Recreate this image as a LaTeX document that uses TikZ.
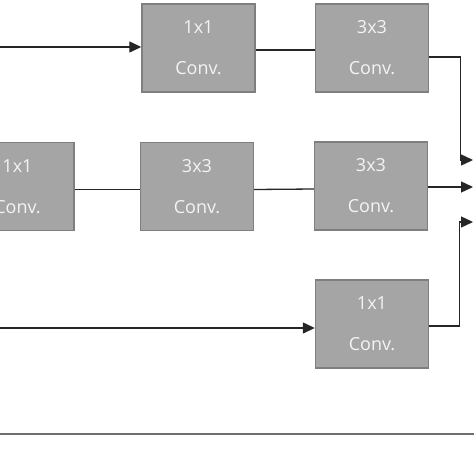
\documentclass[tikz,border=0pt]{standalone}
\usepackage{fontspec}
\setmainfont{Open Sans}
\usetikzlibrary{arrows.meta}
\definecolor{boxfill}{HTML}{A5A5A5}
\definecolor{boxline}{HTML}{7F7F7F}
\definecolor{boxtext}{HTML}{F4F4F4}
\definecolor{wire}{HTML}{262626}
\definecolor{rule}{HTML}{6E6E6E}
\tikzset{
  convbox/.style={draw=boxline, line width=1.4pt, fill=boxfill, text=boxtext,
    minimum width=113pt, minimum height=88pt, inner sep=0pt, align=center,
    font=\fontsize{18}{41}\selectfont},
  wireline/.style={draw=wire, line width=1.3pt},
  arr/.style={wireline, -{Triangle[length=12pt,width=11pt]}},
}
\begin{document}
\begin{tikzpicture}[x=1pt,y=-1pt]
\useasboundingbox (0,0) rectangle (474,474);
\fill[white] (0,0) rectangle (474,474);
\node[convbox] (A) at (198.5,48) {1x1\\Conv.};
\node[convbox] (B) at (372,48) {3x3\\Conv.};
\node[convbox] (C) at (17.5,186.5) {1x1\\Conv.};
\node[convbox] (D) at (197,186.5) {3x3\\Conv.};
\node[convbox] (E) at (371,186) {3x3\\Conv.};
\node[convbox] (F) at (372,324) {1x1\\Conv.};
\coordinate (in1) at (0,47);
\coordinate (in3) at (0,328);
\coordinate (out1) at (473,160);
\coordinate (out2) at (473,187);
\coordinate (out3) at (473,222);
\coordinate (r1) at (0,434);
\coordinate (r2) at (474,434);
\draw[arr] (in1) -- ([yshift=1pt]A.west);
\draw[wireline] ([yshift=-2pt]A.east) -- ([yshift=-2pt]B.west);
\draw[arr] ([yshift=-9pt]B.east) -- ++(31,0) |- (out1);
\draw[wireline] ([yshift=-3pt]C.east) -- ([yshift=-3pt]D.west);
\draw[wireline] ([yshift=-3pt]D.east) -- ([yshift=-3pt]E.west);
\draw[arr] ([yshift=-1pt]E.east) -- (out2);
\draw[arr] ([yshift=-2pt]F.east) -- ++(30,0) |- (out3);
\draw[arr] (in3) -- ([yshift=-4pt]F.west);
\draw[draw=rule, line width=1.3pt] (r1) -- (r2);
\end{tikzpicture}
\end{document}
